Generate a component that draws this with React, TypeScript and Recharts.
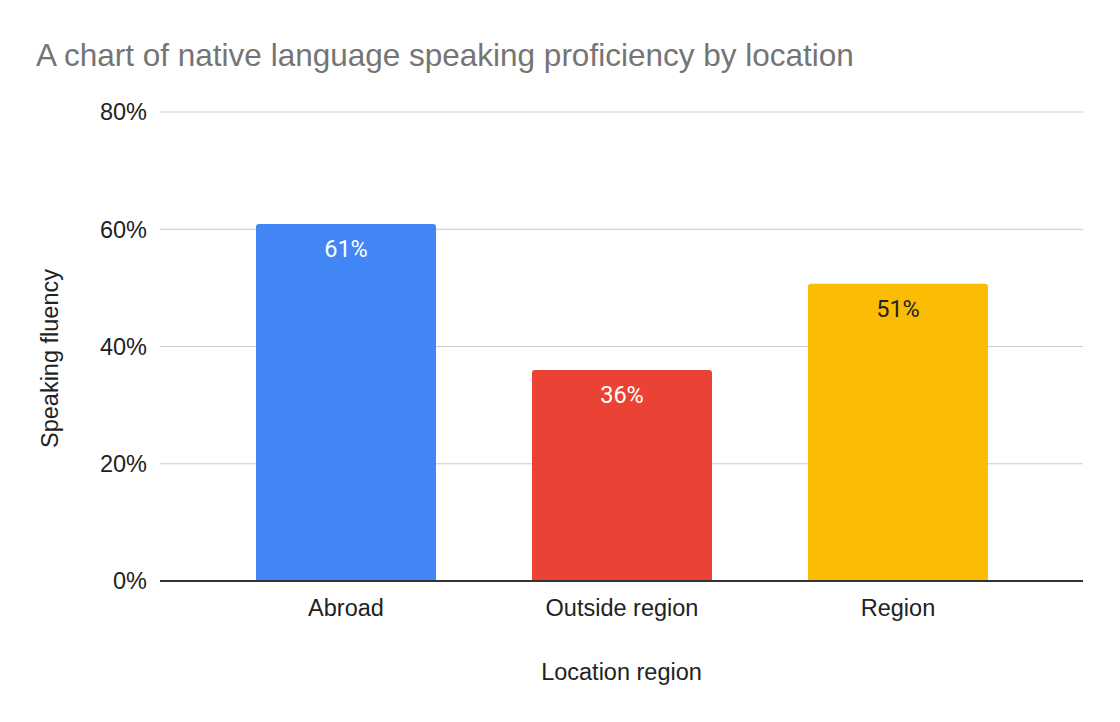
import React from 'react';
import { BarChart, Bar, XAxis, YAxis, CartesianGrid, Cell, LabelList, Label } from 'recharts';

const categories = ['Abroad', 'Outside region', 'Region'];
const values = [0.609, 0.36, 0.507];
const barColors = ['#4285F4', '#EA4335', '#FBBC04'];
const labelColors = ['#ffffff', '#ffffff', '#222222'];
const yTicks = [0, 0.2, 0.4, 0.6, 0.8];

const chartTitle = 'A chart of native language speaking proficiency by location';
const xTitle = 'Location region';
const yTitle = 'Speaking fluency';

const data = categories.map((c, i) => ({ name: c, value: values[i] }));

const AXIS_FONT = '"Liberation Sans", Arial, sans-serif';
const FS = 23.5;

const pct = (v: number) => `${Math.round(v * 100)}%`;

const DataLabel = (props: any) => {
  const { x, y, width, value, index } = props;
  return (
    <text
      x={Number(x) + Number(width) / 2}
      y={Number(y) + 25}
      dy="0.35em"
      textAnchor="middle"
      fill={labelColors[index] ?? '#fff'}
      fontFamily="Roboto, sans-serif"
      fontSize={FS}
    >
      {pct(Number(value))}
    </text>
  );
};

const YTitle = (props: any) => {
  const vb = props.viewBox || { x: 0, y: 112, width: 160, height: 469 };
  const cx = vb.x + 58;
  const cy = vb.y + vb.height / 2 + 12;
  return (
    <text
      x={cx}
      y={cy}
      transform={`rotate(-90 ${cx} ${cy})`}
      textAnchor="middle"
      fill="#222"
      fontFamily={AXIS_FONT}
      fontSize={FS}
    >
      {yTitle}
    </text>
  );
};

const XTitle = (props: any) => {
  const vb = props.viewBox || { x: 160, y: 581, width: 923, height: 141 };
  return (
    <text
      x={vb.x + vb.width / 2}
      y={vb.y + 99}
      textAnchor="middle"
      fill="#222"
      fontFamily={AXIS_FONT}
      fontSize={FS}
    >
      {xTitle}
    </text>
  );
};

export default function App() {
  return (
    <div style={{ position: 'absolute', left: 0, top: 0, width: 1120, height: 722, background: '#fff' }}>
      <div
        style={{
          position: 'absolute',
          left: 36,
          top: 36.5,
          fontFamily: AXIS_FONT,
          fontSize: 31.5,
          color: '#757575',
          whiteSpace: 'nowrap',
          lineHeight: 'normal',
        }}
      >
        {chartTitle}
      </div>
      <BarChart
        width={1120}
        height={722}
        data={data}
        margin={{ top: 112, right: 37, bottom: 0, left: 0 }}
      >
        <CartesianGrid vertical={false} stroke="#cccccc" strokeWidth={1} />
        <YAxis
          type="number"
          domain={[0, 0.8]}
          ticks={yTicks}
          width={160}
          axisLine={false}
          tickLine={false}
          tickSize={0}
          tickMargin={13}
          tickFormatter={pct}
          tick={{ fill: '#222', fontSize: FS, fontFamily: AXIS_FONT }}
        >
          <Label content={<YTitle />} />
        </YAxis>
        <XAxis
          dataKey="name"
          height={141}
          padding={{ left: 48, right: 47 }}
          axisLine={{ stroke: '#333333', strokeWidth: 2 }}
          tickLine={false}
          tickSize={0}
          tickMargin={18}
          tick={{ fill: '#222', fontSize: FS, fontFamily: AXIS_FONT }}
        >
          <Label content={<XTitle />} />
        </XAxis>
        <Bar dataKey="value" barSize={180} radius={[3, 3, 0, 0]} isAnimationActive={false}>
          {data.map((d, i) => (
            <Cell key={d.name} fill={barColors[i]} />
          ))}
          <LabelList dataKey="value" content={<DataLabel />} />
        </Bar>
      </BarChart>
    </div>
  );
}
